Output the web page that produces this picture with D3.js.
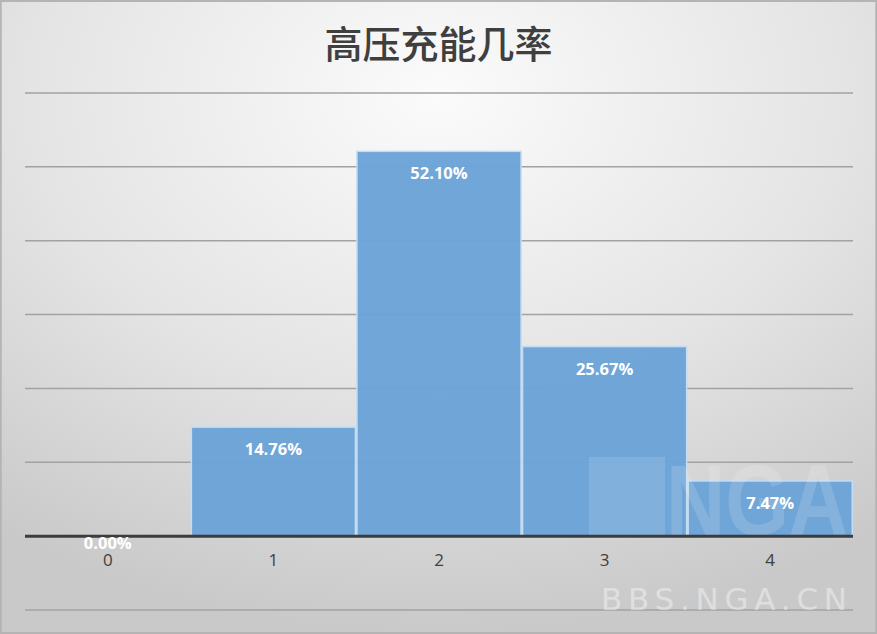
<!DOCTYPE html>
<html><head><meta charset="utf-8">
<script src="https://cdn.jsdelivr.net/npm/d3@7"></script>
<style>html,body{margin:0;padding:0;background:#fff;}svg{display:block;}</style>
</head><body>
<script>
const categories = ["0","1","2","3","4"];
const values = [0.00, 14.76, 52.10, 25.67, 7.47];
const labels = ["0.00%","14.76%","52.10%","25.67%","7.47%"];
const yTicks = [-10,0,10,20,30,40,50,60];
const title = "高压充能几率";

const W = 877, H = 634;
const svg = d3.select("body").append("svg").attr("width", W).attr("height", H);
const defs = svg.append("defs");
const rg = defs.append("radialGradient").attr("id","bg").attr("cx","50%").attr("cy","15%").attr("r","85%");
rg.append("stop").attr("offset","0%").attr("stop-color","#fbfbfb");
rg.append("stop").attr("offset","55%").attr("stop-color","#e4e4e4");
rg.append("stop").attr("offset","100%").attr("stop-color","#c9c9c9");
svg.append("rect").attr("width",W).attr("height",H).attr("fill","url(#bg)");
svg.append("rect").attr("x",0.75).attr("y",1).attr("width",W-1.5).attr("height",H-2)
  .attr("fill","none").attr("stroke","#b4b4b4").attr("stroke-width",2);

const x = d3.scaleBand().domain(categories).range([25, 853]).padding(0);
const y = d3.scaleLinear().domain([-10, 60]).range([610, 93]);

// gridlines
svg.append("g").selectAll("line").data(yTicks.filter(t=>t!==0)).join("line")
  .attr("x1",25).attr("x2",853).attr("y1",d=>y(d)).attr("y2",d=>y(d))
  .attr("stroke","#a2a2a2").attr("stroke-width",1.5);

// bars
svg.append("g").selectAll("rect").data(values).join("rect")
  .attr("x",(d,i)=>x(categories[i])+0.75)
  .attr("width",x.bandwidth()-1.5)
  .attr("y",d=>y(d))
  .attr("height",d=>y(0)-y(d))
  .attr("fill","#6ba3d7").attr("fill-opacity",0.97)
  .attr("stroke","#c5dcf1").attr("stroke-width",1.5)
  .attr("display",d=>d>0?null:"none");

// watermark
const wm = svg.append("g");
wm.append("rect").attr("x",589).attr("y",457).attr("width",76).attr("height",80).attr("fill","#ffffff").attr("opacity",0.13);
wm.append("text").attr("x",666).attr("y",535).attr("font-family","Liberation Sans, Arial, sans-serif")
  .attr("font-weight","bold").attr("font-size",100).attr("fill","#ffffff").attr("opacity",0.15)
  .attr("textLength",182).attr("lengthAdjust","spacingAndGlyphs").text("NGA");
wm.append("text").attr("x",601).attr("y",610).attr("font-family","DejaVu Sans, sans-serif")
  .attr("font-size",31).attr("fill","#ffffff").attr("opacity",0.4)
  .attr("textLength",246).attr("lengthAdjust","spacing").text("BBS.NGA.CN");

// x axis
const xAxis = svg.append("g").attr("transform",`translate(0,${y(0)})`)
  .call(d3.axisBottom(x).tickSize(0));
xAxis.select(".domain").attr("stroke","#3c3c3c").attr("stroke-width",3).attr("d","M25,0H853");
xAxis.selectAll("text").attr("y",30).attr("dy",0)
  .attr("font-family","Open Sans, DejaVu Sans, sans-serif").attr("font-size",17).attr("fill","#404040");

// data labels
svg.append("g").selectAll("text").data(values).join("text")
  .attr("x",(d,i)=>x(categories[i])+x.bandwidth()/2)
  .attr("y",d=>d>0 ? y(d)+28 : y(0)+13)
  .attr("text-anchor","middle")
  .attr("font-family","Open Sans, Liberation Sans, sans-serif").attr("font-weight","bold")
  .attr("font-size",16.5).attr("fill","#ffffff")
  .text((d,i)=>labels[i]);

// title
svg.append("text").attr("x",438.5).attr("y",58).attr("text-anchor","middle")
  .attr("font-family","Noto Sans CJK SC, sans-serif").attr("font-weight",500)
  .attr("font-size",38).attr("fill","#3f3f3f").text(title);
</script>
</body></html>
